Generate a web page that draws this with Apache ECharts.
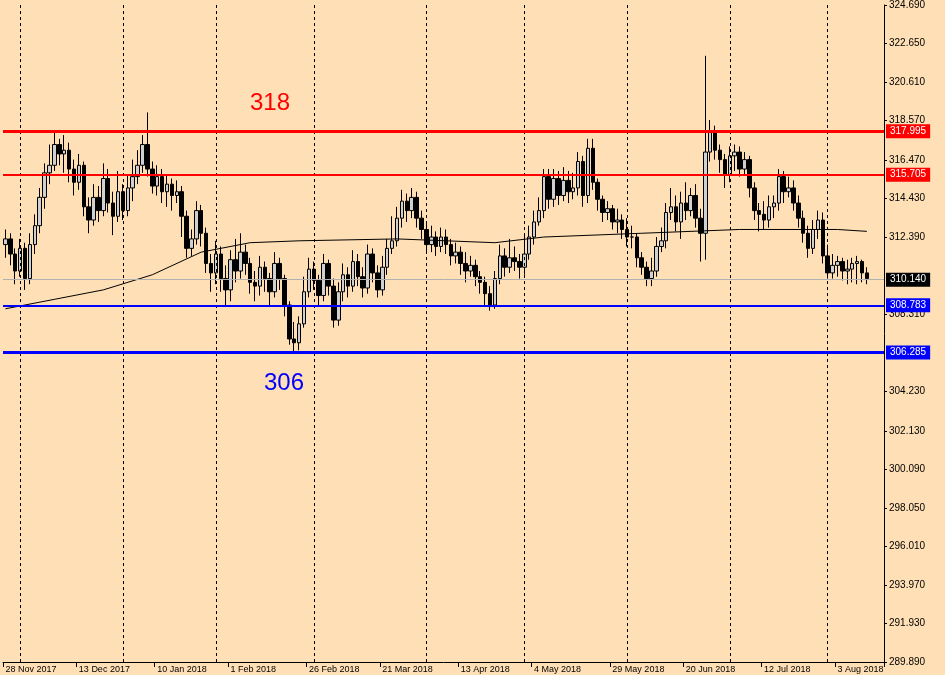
<!DOCTYPE html>
<html>
<head>
<meta charset="utf-8">
<script src="https://cdn.jsdelivr.net/npm/echarts@6/dist/echarts.min.js"></script>
<style>html,body{margin:0;padding:0;background:#ffdfb5;}#main{width:945px;height:675px;}</style>
</head>
<body>
<div id="main"></div>
<script>
var opens = [312.0,312.3,311.5,310.6,311.8,310.2,312.0,313.0,314.5,315.8,316.2,317.3,316.8,317.0,316.0,315.3,316.2,314.0,313.3,314.5,313.8,315.5,314.2,313.5,314.8,313.8,315.0,315.6,316.2,317.3,316.0,315.1,315.6,314.8,315.2,314.6,314.8,313.5,311.8,312.3,313.8,312.6,311.0,310.5,311.5,310.2,309.6,311.2,310.6,311.6,311.0,310.0,309.8,310.8,310.2,309.5,311.0,310.2,308.8,307.0,306.8,307.8,309.5,310.7,310.1,309.3,311.0,309.8,308.0,309.5,310.4,309.8,311.1,310.3,309.7,311.5,310.5,309.6,310.8,311.8,312.2,313.4,314.3,313.8,314.5,313.4,312.8,312.0,312.4,311.9,312.4,312.0,311.4,311.6,311.0,310.6,310.9,310.3,310.0,309.4,308.8,310.2,311.4,310.8,311.3,311.1,310.8,311.5,312.4,313.2,313.8,315.6,314.4,315.5,314.6,315.4,314.8,315.0,316.4,314.6,317.1,315.3,314.4,313.7,313.9,313.2,313.3,312.8,312.4,312.4,311.3,310.8,310.2,310.6,311.9,312.2,313.7,314.0,313.2,314.2,313.8,314.6,313.4,312.6,316.9,318.0,317.0,316.5,315.7,316.7,316.9,316.0,316.5,315.0,313.8,313.6,313.3,314.0,314.2,315.6,314.8,315.0,314.2,313.4,312.6,311.8,312.8,313.3,311.4,310.5,310.9,311.1,310.6,310.7,311.0,311.1,310.5];
var closes = [312.3,311.5,310.6,311.8,310.2,312.0,313.0,314.5,315.8,316.2,317.3,316.8,317.0,316.0,315.3,316.2,314.0,313.3,314.5,313.8,315.5,314.2,313.5,314.8,313.8,315.0,315.6,316.2,317.3,316.0,315.1,315.6,314.8,315.2,314.6,314.8,313.5,311.8,312.3,313.8,312.6,311.0,310.5,311.5,310.2,309.6,311.2,310.6,311.6,311.0,310.0,309.8,310.8,310.2,309.5,311.0,310.2,308.8,307.0,306.8,307.8,309.5,310.7,310.1,309.3,311.0,309.8,308.0,309.5,310.4,309.8,311.1,310.3,309.7,311.5,310.5,309.6,310.8,311.8,312.2,313.4,314.3,313.8,314.5,313.4,312.8,312.0,312.4,311.9,312.4,312.0,311.4,311.6,311.0,310.6,310.9,310.3,310.0,309.4,308.8,310.2,311.4,310.8,311.3,311.1,310.8,311.5,312.4,313.2,313.8,315.6,314.4,315.5,314.6,315.4,314.8,315.0,316.4,314.6,317.1,315.3,314.4,313.7,313.9,313.2,313.3,312.8,312.4,312.4,311.3,310.8,310.2,310.6,311.9,312.2,313.7,314.0,313.2,314.2,313.8,314.6,313.4,312.6,316.9,318.0,317.0,316.5,315.7,316.7,316.9,316.0,316.5,315.0,313.8,313.6,313.3,314.0,314.2,315.6,314.8,315.0,314.2,313.4,312.6,311.8,312.8,313.3,311.4,310.5,310.9,311.1,310.6,310.7,311.0,311.1,310.5,310.2];
var highs = [312.8,312.6,311.8,312.3,312.1,312.6,313.6,315.0,316.3,317.3,318.0,317.6,317.8,317.4,316.5,316.8,316.4,314.5,315.2,315.1,316.3,316.0,314.8,315.9,315.2,315.7,316.5,317.0,317.8,319.0,316.4,316.2,316.0,315.7,315.5,315.4,315.1,313.8,312.8,314.3,314.1,312.9,311.5,312.2,311.9,310.9,311.7,312.3,312.6,312.0,311.3,310.6,311.4,311.1,310.5,311.6,311.3,310.4,309.0,307.9,308.2,310.3,311.3,311.1,310.4,311.5,311.2,310.2,310.0,311.0,310.8,311.7,311.5,310.8,312.0,311.8,310.9,311.4,312.3,313.5,314.0,314.9,314.7,315.0,314.8,313.8,313.2,313.0,312.7,312.9,312.8,312.3,312.1,311.9,311.6,311.4,311.2,310.6,310.3,309.8,310.6,312.0,311.8,312.3,311.9,311.5,312.6,313.0,313.8,314.5,316.0,316.0,316.0,315.9,316.1,315.9,315.8,316.9,316.7,317.6,317.6,315.5,314.6,314.3,314.1,313.9,313.6,313.4,313.0,312.6,311.6,311.1,311.3,312.4,312.9,314.2,315.0,314.6,314.8,315.3,315.0,315.2,313.9,322.0,318.6,318.3,317.3,316.8,317.2,317.3,317.2,316.9,316.7,315.3,314.2,314.3,314.6,314.6,316.0,315.9,315.6,315.4,314.6,313.8,313.0,313.3,313.8,313.7,312.0,311.5,311.4,311.3,311.2,311.3,311.4,311.2,310.8];
var lows = [311.3,310.9,309.9,310.3,309.6,309.9,311.5,312.6,313.9,315.2,315.9,316.2,315.8,315.3,314.6,314.9,313.5,312.6,313.0,313.2,313.5,313.7,312.5,313.2,313.3,313.5,314.3,315.2,315.8,315.6,314.7,314.6,314.2,314.0,313.8,314.2,312.4,311.3,311.4,312.0,311.9,310.5,309.5,309.9,309.5,308.8,309.0,310.0,310.2,310.4,309.4,309.0,309.3,309.5,308.8,309.2,309.6,308.2,306.7,306.3,306.4,307.6,309.2,309.6,308.8,309.0,309.3,307.6,307.7,309.0,309.2,309.5,309.8,309.2,309.4,310.0,309.2,309.3,310.4,311.5,311.9,312.9,313.2,313.4,312.9,312.3,311.5,311.6,311.4,311.6,311.5,310.9,311.0,310.4,310.0,310.3,309.8,309.4,308.8,308.5,308.6,309.9,310.3,310.5,310.6,310.2,310.4,311.2,312.0,313.0,313.4,313.9,314.0,314.1,314.3,314.2,314.4,314.6,314.0,314.2,314.9,313.8,313.2,313.3,312.8,312.6,312.3,311.9,311.8,310.8,310.4,309.8,309.8,310.3,311.6,311.8,313.3,312.7,312.3,313.3,313.5,312.9,311.1,311.2,316.4,316.5,315.8,315.0,315.3,315.9,315.6,315.7,314.5,313.3,312.7,312.8,312.9,313.4,313.8,314.2,314.5,313.8,312.9,312.1,311.3,311.5,312.3,311.0,310.2,310.2,310.3,310.1,309.9,310.0,309.9,310.0,309.9];
// 移动平均线（稀疏取点）
var maPoints = [[0,308.6],[10,309.1],[20,309.6],[30,310.4],[40,311.6],[50,312.1],[60,312.2],[80,312.3],[100,312.1],[110,312.4],[130,312.6],[150,312.8],[170,312.8],[176,312.7]];
var yTicks = [289.890,291.930,293.970,296.010,298.050,300.090,302.130,304.230,308.310,312.390,314.430,316.470,318.570,320.610,322.650,324.690];
var xLabels = {0:'28 Nov 2017',15:'13 Dec 2017',31:'10 Jan 2018',46:'1 Feb 2018',62:'26 Feb 2018',77:'21 Mar 2018',93:'13 Apr 2018',108:'4 May 2018',124:'29 May 2018',139:'20 Jun 2018',155:'12 Jul 2018',170:'3 Aug 2018'};
var vLines = [3,24,43,63,86,106,127,148,168];
var levels = [
	{value: 317.995, color: '#ff0000', width: 3},
	{value: 315.705, color: '#ff0000', width: 2},
	{value: 308.783, color: '#0000ff', width: 2},
	{value: 306.285, color: '#0000ff', width: 3}
];
var lastPrice = 310.140;

var N = 180;
var categories = [];
for (var i = 0; i < N; i++) categories.push(xLabels[i] || '');
var candles = [];
for (var i = 0; i < closes.length; i++) candles.push([opens[i], closes[i], lows[i], highs[i]]);
var maData = [];
for (var i = 0; i < N; i++) maData.push(null);
for (var p of maPoints) maData[p[0]] = p[1];

var marks = [];
for (var v of vLines) marks.push({xAxis: v, lineStyle: {color: '#000', type: [3, 3], width: 1}, label: {show: false}});
marks.push({yAxis: lastPrice, lineStyle: {color: '#b0b0b0', type: 'solid', width: 1},
	label: {show: true, position: 'end', formatter: lastPrice.toFixed(3), color: '#fff', backgroundColor: '#000', padding: [2, 4], fontSize: 10, distance: 2}});
for (var l of levels) {
	marks.push({yAxis: l.value, lineStyle: {color: l.color, type: 'solid', width: l.width},
		label: {show: true, position: 'end', formatter: l.value.toFixed(3), color: '#fff', backgroundColor: l.color, padding: [2, 4], fontSize: 10, distance: 2}});
}

var myChart = echarts.init(document.getElementById('main'));
var option = {
	backgroundColor: '#ffdfb5',
	animation: false,
	grid: {left: 3, right: 61, top: -3, bottom: 13},
	graphic: [
		{type: 'text', left: 250, top: 91, style: {text: '318', fill: '#ff0000', font: '24px Arial'}},
		{type: 'text', left: 264, top: 371, style: {text: '306', fill: '#0000ff', font: '24px Arial'}}
	],
	xAxis: {
		type: 'category', data: categories, boundaryGap: true,
		axisLine: {lineStyle: {color: '#000'}},
		axisTick: {show: true, interval: function (i) { return xLabels[i] !== undefined; }, lineStyle: {color: '#000'}},
		axisLabel: {interval: function (i) { return xLabels[i] !== undefined; }, color: '#000', fontSize: 9, margin: 3, align: 'left', fontFamily: 'Liberation Sans'},
		splitLine: {show: false}
	},
	yAxis: {
		type: 'value', position: 'right', min: 289.89, max: 324.69, scale: true,
		axisLine: {show: true, lineStyle: {color: '#000'}},
		axisTick: {show: true, customValues: yTicks, length: 3, lineStyle: {color: '#000'}},
		axisLabel: {customValues: yTicks, color: '#000', fontSize: 10, margin: 5, fontFamily: 'Liberation Sans',
			formatter: function (v) { return v.toFixed(3); }},
		splitLine: {show: false}
	},
	series: [{
		type: 'candlestick', data: candles, barWidth: 4,
		itemStyle: {color: '#d0d0d0', color0: '#000', borderColor: '#000', borderColor0: '#000', borderWidth: 1},
		markLine: {symbol: 'none', silent: true, animation: false, data: marks}
	}, {
		type: 'line', data: maData, connectNulls: true, showSymbol: false, symbol: 'none',
		lineStyle: {color: '#000', width: 1}
	}]
};
myChart.setOption(option);
</script>
</body>
</html>
